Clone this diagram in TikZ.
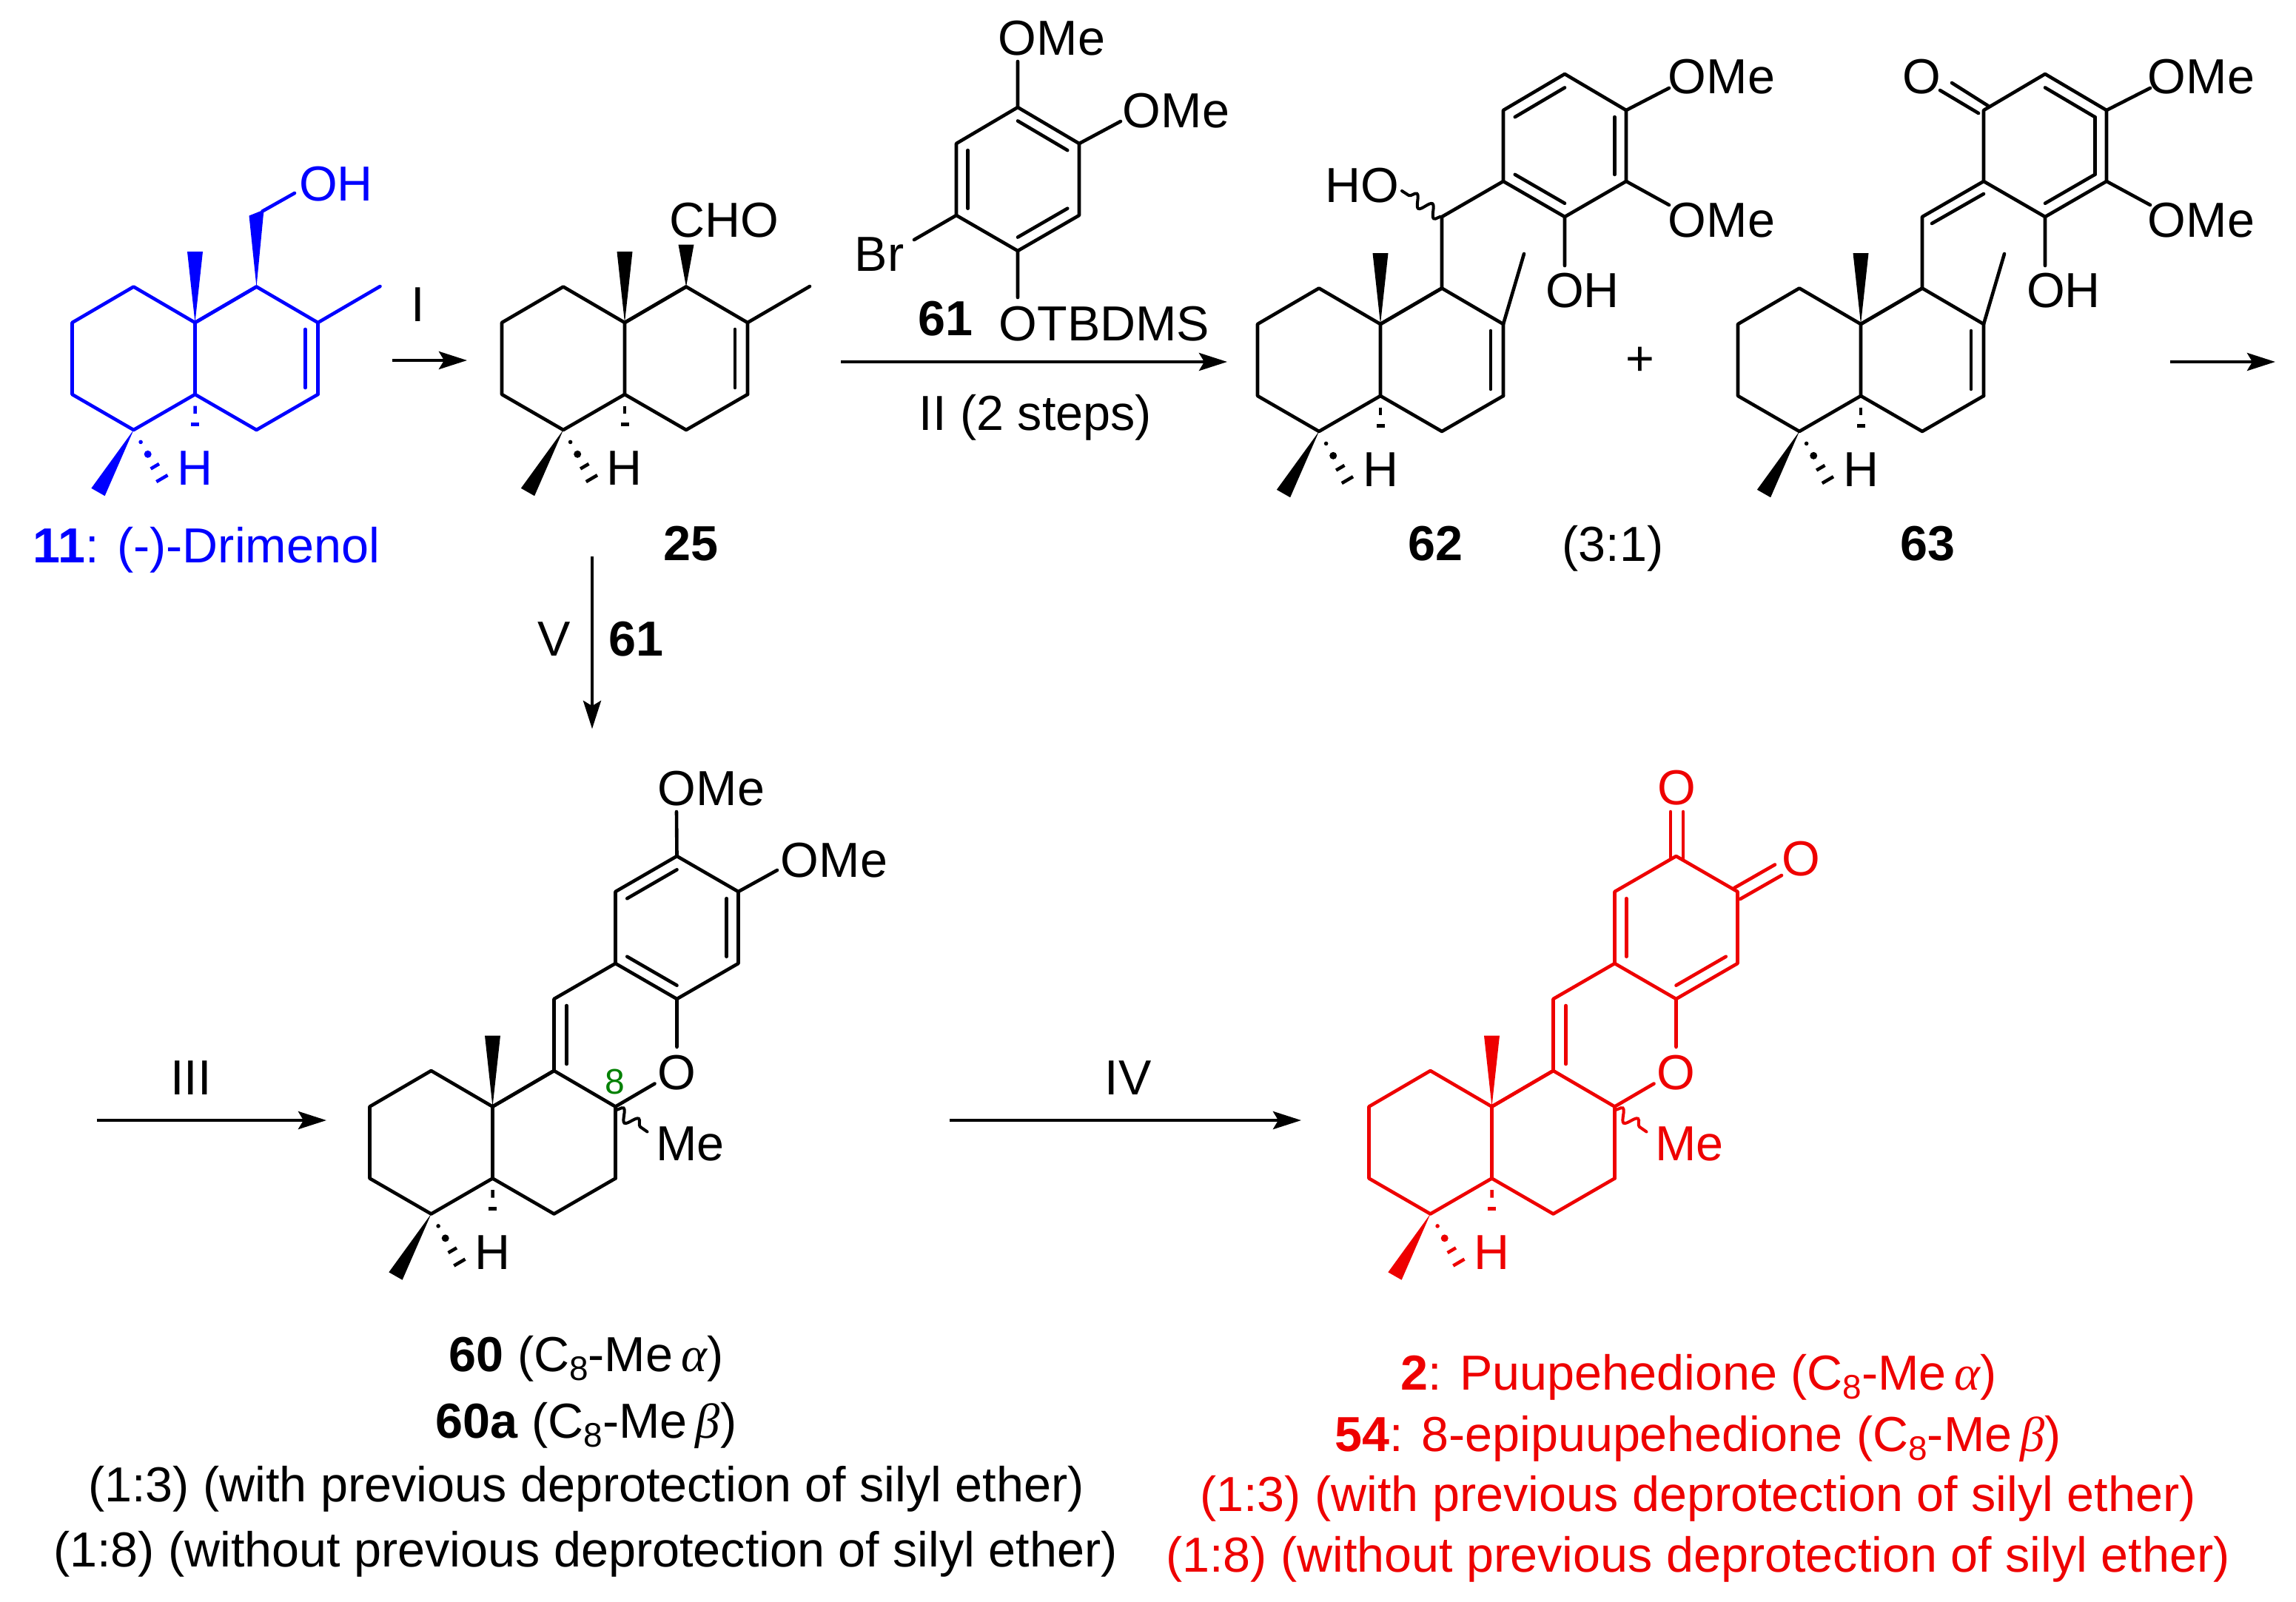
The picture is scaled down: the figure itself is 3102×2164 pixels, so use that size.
\documentclass[tikz,border=0pt]{standalone}
\usepackage{fontspec}
\setmainfont{Liberation Sans}
\newfontfamily\grk{Liberation Serif}
\usetikzlibrary{calc,arrows.meta,decorations.pathmorphing}
\definecolor{chemblue}{RGB}{0,0,255}
\definecolor{chemred}{RGB}{238,0,0}
\definecolor{chemgreen}{RGB}{0,128,0}
\newcommand{\mainsz}{\fontsize{66.5}{80}\selectfont}
\tikzset{
  bond/.style={line width=4.6pt,line join=round,line cap=round},
  txt/.style={inner sep=0pt,outer sep=0pt,font=\mainsz},
  btxt/.style={inner sep=0pt,outer sep=0pt,font=\mainsz\bfseries},
  lbl/.style={txt,anchor=base},
  rxn/.style={line width=4.6pt,-{Stealth[length=38pt,width=24pt,inset=7pt]}},
  wiggly/.style={line width=4pt,line cap=round,decorate,decoration={snake,amplitude=8pt,segment length=25pt}},
}
\newcommand{\csub}{\raisebox{-12pt}{\fontsize{46}{46}\selectfont 8}}
\newcommand{\ga}{\,{\grk\itshape α}}
\newcommand{\gb}{\,{\grk\itshape β}}
% wedge from atom #1 to #2, half width #3
\newcommand{\wedgebond}[3]{\fill ($(#2)!#3pt!90:(#1)$) -- (#1) -- ($(#2)!#3pt!-90:(#1)$) -- cycle;}
\newcommand{\hashmark}[4]{\draw[line width=#4pt] ($(#1)!#3!(#2)!#3*11pt!90:(#2)$) -- ($(#1)!#3!(#2)!#3*11pt!-90:(#2)$);}
\newcommand{\hashbond}[2]{%
  \fill ($(#1)!0.2!(#2)$) circle (2.8pt);
  \fill ($(#1)!0.4!(#2)$) circle (5pt);
  \hashmark{#1}{#2}{0.6}{4.5}\hashmark{#1}{#2}{0.8}{4.5}\hashmark{#1}{#2}{1}{4.5}}
\newcommand{\hbond}[2]{%
  \draw[line width=4.5pt] ($(#1)!0.25!(#2)$) -- ($(#1)!0.42!(#2)$);
  \draw[line width=5pt] ($(#1)!0.66!(#2)!5.5pt!90:(#2)$) -- ($(#1)!0.66!(#2)!5.5pt!-90:(#2)$);
  \draw[line width=5pt] ($(#1)!1!(#2)!10pt!90:(#2)$) -- ($(#1)!1!(#2)!10pt!-90:(#2)$);}
\newcommand{\inner}[3]{\draw[bond] ($(#1)!0.19!(#3)$) -- ($(#2)!0.19!(#3)$);}
\newcommand{\decalin}[3]{%
  \coordinate (#1c10) at (#2,#3);
  \coordinate (#1c1) at ($(#1c10)+(-83,-48.5)$);
  \coordinate (#1c2) at ($(#1c10)+(-166,0)$);
  \coordinate (#1c3) at ($(#1c10)+(-166,97)$);
  \coordinate (#1c4) at ($(#1c10)+(-83,145)$);
  \coordinate (#1c5) at ($(#1c10)+(0,97)$);
  \coordinate (#1c6) at ($(#1c10)+(83,145)$);
  \coordinate (#1c7) at ($(#1c10)+(166,97)$);
  \coordinate (#1c8) at ($(#1c10)+(166,0)$);
  \coordinate (#1c9) at ($(#1c10)+(83,-48.5)$);
  \coordinate (#1me10) at ($(#1c10)+(0,-96)$);
  \coordinate (#1me4a) at ($(#1c4)+(-48,84)$);
  \coordinate (#1me4b) at ($(#1c4)+(48,82)$);
  \coordinate (#1hh) at ($(#1c5)+(0,62)$);
  \node[txt] (#1H) at ($(#1c5)+(0,100)$) {H};
  \draw[bond] (#1c10)--(#1c1)--(#1c2)--(#1c3)--(#1c4)--(#1c5)--(#1c10)--(#1c9);
  \draw[bond] (#1c5)--(#1c6)--(#1c7);
  \wedgebond{#1c10}{#1me10}{10.5}
  \wedgebond{#1c4}{#1me4a}{10.5}
  \hashbond{#1c4}{#1me4b}
  \hbond{#1c5}{#1hh}
}
\newcommand{\drimane}[5]{%
  \decalin{#1}{#2}{#3}
  \coordinate (#1me8) at ($(#1c8)+(#4,#5)$);
  \draw[bond] (#1c7)--(#1c8)--(#1c9)--(#1c10);
  \draw[bond] (#1c8)--(#1me8);
  \draw[bond] ($(#1c8)+(-17,9)$) -- ($(#1c7)+(-17,-9)$);
}
\begin{document}
\begin{tikzpicture}[x=1pt,y=-1pt]
\useasboundingbox (0,0) rectangle (3102,2164);
\fill[white] (0,0) rectangle (3102,2164);

% ---------- 11
\begin{scope}[color=chemblue,fill=chemblue,text=chemblue]
\drimane{a}{263.5}{436}{84}{-49}
\coordinate (ach) at ($(ac9)+(0,-96)$);
\coordinate (aoh) at (398,261);
\fill ($(ach)+(-10,0)$) -- (ac9) -- ($(ach)+(10,-8)$) -- cycle;
\draw[bond] ($(ach)+(8,-6)$) -- (aoh);
\node[txt] (aOH) at (454,249) {OH};
\node[lbl] (a11) at (279,760) {\textbf{11}: (-)-Drimenol};
\end{scope}

% ---------- arrow I
\coordinate (ar1a) at (530,487);
\coordinate (ar1b) at (631,487);
\draw[rxn] (ar1a) -- (ar1b);
\node[txt] (lI) at (565,412) {I};

% ---------- 25
\drimane{b}{844}{436}{84}{-49}
\coordinate (bcho) at ($(bc9)+(0,-57)$);
\wedgebond{bc9}{bcho}{10.5}
\node[txt] (bCHO) at (978,298) {CHO};
\node[btxt] (l25) at (933,735) {25};

% ---------- 61
\coordinate (r1) at (1375,145);
\coordinate (r2) at (1458,194);
\coordinate (r3) at (1458,291);
\coordinate (r4) at (1375,339);
\coordinate (r5) at (1292,291);
\coordinate (r6) at (1292,194);
\coordinate (rc) at (1375,242);
\draw[bond] (r1)--(r2)--(r3)--(r4)--(r5)--(r6)--cycle;
\inner{r1}{r2}{rc}\inner{r3}{r4}{rc}\inner{r5}{r6}{rc}
\coordinate (ro1) at (1375,83);
\coordinate (ro2) at (1514,164);
\coordinate (rbr) at (1235,324);
\coordinate (rotb) at (1375,402);
\draw[bond] (r1)--(ro1) (r2)--(ro2) (r5)--(rbr) (r4)--(rotb);
\node[txt] (tO1) at (1421,52) {OMe};
\node[txt] (tO2) at (1589,150) {OMe};
\node[txt] (tBr) at (1188,344) {Br};
\node[txt] (tOT) at (1492,438) {OTBDMS};
\node[btxt] (l61a) at (1277,431) {61};

% ---------- arrow II
\coordinate (ar2a) at (1136,489);
\coordinate (ar2b) at (1658,489);
\draw[rxn] (ar2a) -- (ar2b);
\node[txt] (lII) at (1399,564) {II (2 steps)};

% ---------- vertical arrow V
\coordinate (arVa) at (800,752);
\coordinate (arVb) at (800,985);
\draw[rxn] (arVa) -- (arVb);
\node[txt] (lV) at (749,864) {V};
\node[btxt] (l61b) at (859,864) {61};

% ---------- 62
\drimane{c}{1865}{438}{28}{-95}
\coordinate (cch) at (1948,293);
\coordinate (p1) at (2031,245);
\coordinate (p2) at (2031,149);
\coordinate (p3) at (2114,100);
\coordinate (p4) at (2197,149);
\coordinate (p5) at (2197,245);
\coordinate (p6) at (2114,293);
\coordinate (pc) at (2114,197);
\draw[bond] (cc9)--(cch)--(p1)--(p2)--(p3)--(p4)--(p5)--(p6)--(p1);
\inner{p2}{p3}{pc}\inner{p4}{p5}{pc}\inner{p6}{p1}{pc}
\coordinate (po1) at (2255,119);
\coordinate (po2) at (2255,277);
\coordinate (po3) at (2114,359);
\draw[bond] (p4)--(po1) (p5)--(po2) (p6)--(po3);
\node[txt] (tP1) at (2326,104) {OMe};
\node[txt] (tP2) at (2326,298) {OMe};
\node[txt] (tP3) at (2138,393) {OH};
\node[txt] (tHO) at (1840,251) {HO};
\coordinate (cw) at (1894,258);
\draw[wiggly] (cch) -- (cw);
\node[btxt] (l62) at (1939,735) {62};
\node[txt] (l31) at (2179,741) {(3:1)};

% plus
\node[txt] (plus) at (2216,488) {+};

% ---------- 63
\drimane{d}{2514}{438}{28}{-95}
\coordinate (dch) at (2597,293);
\coordinate (q1) at (2680,245);
\coordinate (q2) at (2680,149);
\coordinate (q3) at (2763,100);
\coordinate (q4) at (2846,149);
\coordinate (q5) at (2846,245);
\coordinate (q6) at (2763,293);
\coordinate (qc) at (2763,197);
\draw[bond] (dc9)--(dch)--(q1)--(q2)--(q3)--(q4)--(q5)--(q6)--(q1);
\draw[bond] ($(dch)+(13,9)$) -- ($(q1)+(0,17)$);
\inner{q3}{q4}{qc}\inner{q5}{q6}{qc}\inner{q4}{q5}{qc}
\coordinate (qo1) at (2905,119);
\coordinate (qo2) at (2905,277);
\coordinate (qo3) at (2763,359);
\draw[bond] (q4)--(qo1) (q5)--(qo2) (q6)--(qo3);
\draw[bond] ($(q2)+(-7,4)$) -- (2621,122) ($(q2)+(6,-6)$) -- (2637,112);
\node[txt] (tQ0) at (2596,104) {O};
\node[txt] (tQ1) at (2974,104) {OMe};
\node[txt] (tQ2) at (2974,298) {OMe};
\node[txt] (tQ3) at (2788,393) {OH};
\node[btxt] (l63) at (2604,735) {63};

% ---------- arrow after 63
\coordinate (ar3a) at (2932,489);
\coordinate (ar3b) at (3074,489);
\draw[rxn] (ar3a) -- (ar3b);

% ---------- arrows III, IV
\coordinate (ar4a) at (131,1514);
\coordinate (ar4b) at (441,1514);
\draw[rxn] (ar4a) -- (ar4b);
\node[txt] (lIII) at (258,1457) {III};
\coordinate (ar5a) at (1283,1514);
\coordinate (ar5b) at (1758,1514);
\draw[rxn] (ar5a) -- (ar5b);
\node[txt] (lIV) at (1524,1457) {IV};

% ---------- tetracycle
\newcommand{\tetra}[3]{%
  \decalin{#1}{#2}{1495.5}
  \coordinate (#1v) at ($(#1c9)+(0,-97)$);
  \coordinate (#1s1) at ($(#1c9)+(83,-145)$);
  \coordinate (#1s2) at ($(#1c9)+(83,-242)$);
  \coordinate (#1s3) at ($(#1c9)+(166,-290)$);
  \coordinate (#1s4) at ($(#1c9)+(249,-242)$);
  \coordinate (#1s5) at ($(#1c9)+(249,-145)$);
  \coordinate (#1s6) at ($(#1c9)+(166,-97)$);
  \coordinate (#1sc) at ($(#1c9)+(166,-193.5)$);
  \coordinate (#1obond) at ($(#1s6)+(0,65)$);
  \coordinate (#1cob) at ($(#1c8)+(53,-31)$);
  \coordinate (#1wg) at ($(#1c8)+(43,34)$);
  \draw[bond] (#1c7)--(#1c8)--(#1c9)--(#1c10);
  \draw[bond] (#1c9)--(#1v)--(#1s1)--(#1s2)--(#1s3)--(#1s4)--(#1s5)--(#1s6)--(#1s1);
  \draw[bond] ($(#1c9)+(17,-9)$) -- ($(#1v)+(17,9)$);
  \draw[bond] (#1s6)--(#1obond) (#1c8)--(#1cob);
  \draw[wiggly] ($(#1c8)+(0,4)$) -- (#1wg);
  \node[txt] (#1O) at ($(#1s6)+(0,100)$) {O};
  \node[txt] (#1Me) at ($(#1c8)+(101,50)$) {Me};
}
\tetra{e}{665.5}{}
\inner{es2}{es3}{esc}\inner{es4}{es5}{esc}\inner{es1}{es6}{esc}
\coordinate (eo1) at (914,1097);
\coordinate (eo2) at (1050,1176);
\draw[bond] (es3)--(eo1) (es4)--(eo2);
\node[txt] (tE1) at (961,1066) {OMe};
\node[txt] (tE2) at (1127,1163) {OMe};
\node[txt,text=chemgreen,font=\fontsize{48}{56}\selectfont] (t8) at (831,1462) {8};

% ---------- 2 (red)
\begin{scope}[color=chemred,fill=chemred,text=chemred]
\tetra{f}{2015.5}{}
\inner{fs1}{fs2}{fsc}\inner{fs5}{fs6}{fsc}
\draw[bond] (2257,1097) -- (2257,1161) (2274,1097) -- (2274,1161);
\draw[bond] (2343,1200) -- (2398,1168.5) (2351,1215) -- (2407,1183);
\node[txt] (tF1) at (2265,1065) {O};
\node[txt] (tF2) at (2433,1161) {O};
\end{scope}

% ---------- bottom labels
\node[lbl] (l60) at (792,1853) {\textbf{60} (C\csub-Me\ga)};
\node[lbl] (l60a) at (792,1943) {\textbf{60a} (C\csub-Me\gb)};
\node[lbl] (l60b) at (792,2029) {(1:3) (with previous deprotection of silyl ether)};
\node[lbl] (l60c) at (791,2117) {(1:8) (without previous deprotection of silyl ether)};
\begin{scope}[text=chemred]
\node[lbl] (l2) at (2295,1878) {\textbf{2}: Puupehedione (C\csub-Me\ga)};
\node[lbl] (l54) at (2294,1961) {\textbf{54}: 8-epipuupehedione (C\csub-Me\gb)};
\node[lbl] (l2b) at (2294,2042) {(1:3) (with previous deprotection of silyl ether)};
\node[lbl] (l2c) at (2294,2124) {(1:8) (without previous deprotection of silyl ether)};
\end{scope}
\end{tikzpicture}
\end{document}
